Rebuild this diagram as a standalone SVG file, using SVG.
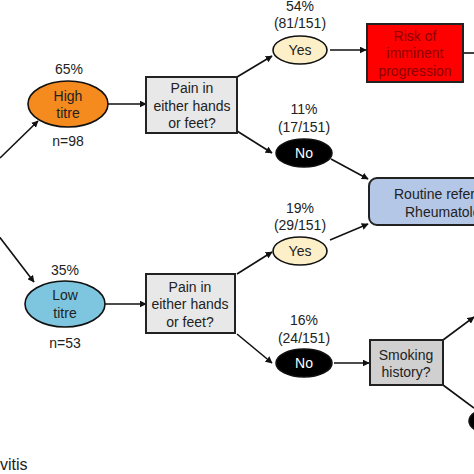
<svg xmlns="http://www.w3.org/2000/svg" width="474" height="474" viewBox="0 0 474 474">
<defs>
<marker id="ah" viewBox="0 0 10 10" refX="9" refY="5" markerWidth="7" markerHeight="7" markerUnits="userSpaceOnUse" orient="auto">
<path d="M0,0 L10,5 L0,10 z" fill="#111"/>
</marker>
<style>
text{font-family:"Liberation Sans",Arial,sans-serif;font-size:14px;fill:#222;text-anchor:middle;dominant-baseline:central}
.ln{stroke:#111;stroke-width:1.6;fill:none}
.ar{marker-end:url(#ah)}
.box{stroke:#222;stroke-width:2}
.ell{stroke:#111;stroke-width:1.6}
.w{fill:#fff}
.red{fill:#8b0000}
</style>
</defs>
<rect width="474" height="474" fill="#fff"/>
<g id="connectors">
<line class="ln ar" x1="0" y1="158" x2="38" y2="121"/>
<line class="ln ar" x1="-2" y1="235" x2="34" y2="282"/>
<line class="ln ar" x1="108" y1="104" x2="146" y2="104"/>
<line class="ln ar" x1="105" y1="304" x2="146" y2="304"/>
<line class="ln ar" x1="237" y1="77" x2="272" y2="56"/>
<line class="ln ar" x1="237" y1="131" x2="272" y2="153"/>
<line class="ln ar" x1="237" y1="274" x2="272" y2="252"/>
<line class="ln ar" x1="237" y1="334" x2="272" y2="363"/>
<line class="ln ar" x1="330" y1="50" x2="366" y2="50"/>
<line class="ln ar" x1="331" y1="159" x2="368" y2="179"/>
<line class="ln ar" x1="330" y1="240" x2="368" y2="224"/>
<line class="ln ar" x1="334" y1="363" x2="369" y2="363"/>
<line class="ln" x1="463" y1="53" x2="474" y2="53"/>
<line class="ln ar" x1="443" y1="340" x2="474" y2="317"/>
<line class="ln" x1="443" y1="385" x2="474" y2="408"/>
</g>
<g id="high-titre">
<text x="69" y="69">65%</text>
<ellipse class="ell" cx="68" cy="104" rx="40" ry="23" fill="#f58b1f"/>
<text x="68" y="96">High</text>
<text x="68" y="113">titre</text>
<text x="68" y="141">n=98</text>
</g>
<g id="low-titre">
<text x="65" y="270">35%</text>
<ellipse class="ell" cx="65" cy="304" rx="40" ry="23" fill="#7ec6e0"/>
<text x="65" y="295">Low</text>
<text x="65" y="313">titre</text>
<text x="65" y="343">n=53</text>
</g>
<g id="pain-high">
<rect class="box" x="146" y="77" width="91" height="56" fill="#e8e8e8"/>
<text x="192" y="88">Pain in</text>
<text x="192" y="106">either hands</text>
<text x="192" y="123">or feet?</text>
</g>
<g id="pain-low">
<rect class="box" x="146" y="274" width="89" height="59" fill="#e8e8e8"/>
<text x="190" y="287">Pain in</text>
<text x="190" y="304">either hands</text>
<text x="190" y="322">or feet?</text>
</g>
<g id="yes-high">
<text x="300" y="6">54%</text>
<text x="300" y="23">(81/151)</text>
<ellipse class="ell" cx="300" cy="50" rx="27" ry="14" fill="#fdf0c8"/>
<text x="300" y="50">Yes</text>
</g>
<g id="no-high">
<text x="304" y="109">11%</text>
<text x="304" y="127">(17/151)</text>
<ellipse class="ell" cx="304" cy="153" rx="28" ry="14" fill="#000"/>
<text class="w" x="304" y="153">No</text>
</g>
<g id="yes-low">
<text x="300" y="208">19%</text>
<text x="300" y="225">(29/151)</text>
<ellipse class="ell" cx="300" cy="251" rx="27" ry="14" fill="#fdf0c8"/>
<text x="300" y="251">Yes</text>
</g>
<g id="no-low">
<text x="304" y="320">16%</text>
<text x="304" y="338">(24/151)</text>
<ellipse class="ell" cx="304" cy="363" rx="28" ry="14" fill="#000"/>
<text class="w" x="304" y="363">No</text>
</g>
<g id="risk">
<rect class="box" x="367" y="24" width="96" height="58" fill="#ff0000"/>
<text class="red" x="415" y="36">Risk of</text>
<text class="red" x="415" y="53">imminent</text>
<text class="red" x="415" y="71">progression</text>
</g>
<g id="routine">
<rect class="box" x="369" y="178" width="130" height="47" rx="8" fill="#b4c7e7"/>
<text x="394" y="194" style="text-anchor:start">Routine referral</text>
<text x="405" y="212" style="text-anchor:start">Rheumatology</text>
</g>
<g id="smoking">
<rect class="box" x="370" y="340" width="73" height="45" fill="#d0d0d0"/>
<text x="406" y="355">Smoking</text>
<text x="406" y="372">history?</text>
</g>
<g id="no-smoking">
<ellipse class="ell" cx="497" cy="421" rx="28" ry="14" fill="#000"/>
</g>
<text x="0" y="464" style="text-anchor:start;font-size:16px">vitis</text>
</svg>
